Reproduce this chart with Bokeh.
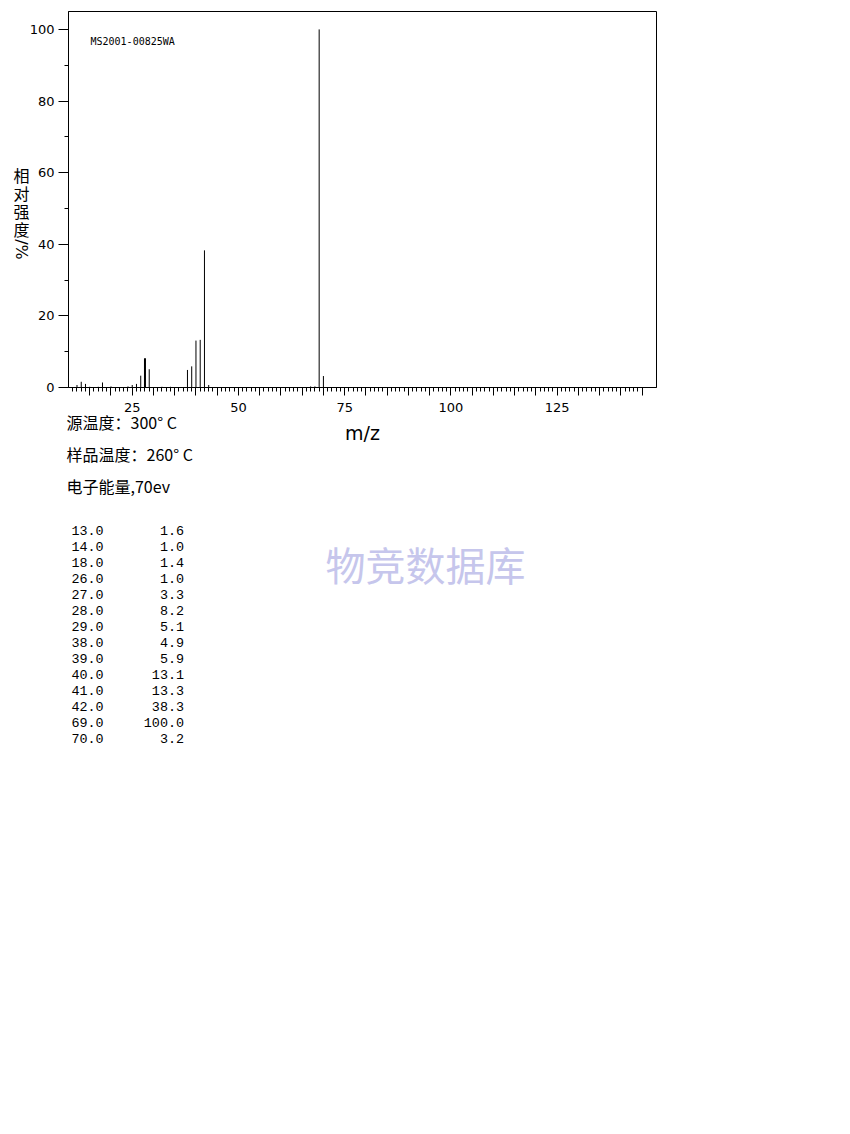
from bokeh.plotting import figure
from bokeh.models import (Label, FixedTicker, CustomJSTickFormatter, Range1d,
                          ColumnDataSource, GridBox)
from bokeh.embed import file_html
from bokeh.resources import INLINE

# ---- data ----
peak_mz = [12, 13, 14, 15, 17, 18, 20, 24, 25, 26, 27, 28, 29, 32, 34,
           38, 39, 40, 41, 42, 43, 67, 68, 69, 70]
peak_int = [0.7, 1.6, 1.0, 0.2, 0.2, 1.4, 0.3, 0.3, 0.7, 1.0, 3.3, 8.2, 5.1, 0.2, 0.2,
            4.9, 5.9, 13.1, 13.3, 38.3, 0.7, 0.3, 0.3, 100.0, 3.2]

table_mz = [13.0, 14.0, 18.0, 26.0, 27.0, 28.0, 29.0, 38.0, 39.0, 40.0, 41.0, 42.0, 69.0, 70.0]
table_int = [1.6, 1.0, 1.4, 1.0, 3.3, 8.2, 5.1, 4.9, 5.9, 13.1, 13.3, 38.3, 100.0, 3.2]

info_lines = ["源温度：300° C", "样品温度：260° C", "电子能量,70ev"]
ylabel_chars = ["相", "对", "强", "度"]
ylabel_tail = "/%"
sample_id = "MS2001-00825WA"
watermark = "物竞数据库"
x_label = "m/z"

x_major = list(range(15, 150, 5))
x_minor = list(range(11, 146))
y_major = [0, 20, 40, 60, 80, 100]
y_minor = [10, 30, 50, 70, 90]

# ---- layout (page pixels) ----
X0, X1 = 10.0, 148.4
Y0, Y1 = 0.0, 105.0
FL, FT, FW, FH = 68, 11, 588, 376  # chart frame on the page
MB_BOTTOM = 60
MAIN_H = FT + FH + MB_BOTTOM
MAIN_W = FL + FW + 10
OV_W = MAIN_W + 20
OV_H = 780

p = figure(width=MAIN_W, height=MAIN_H, x_range=Range1d(X0, X1), y_range=Range1d(Y0, Y1),
           output_backend="svg", toolbar_location=None,
           min_border_left=FL, min_border_top=FT,
           min_border_right=10, min_border_bottom=MB_BOTTOM)
p.background_fill_color = "white"
p.border_fill_color = "white"
p.outline_line_color = "black"
p.outline_line_width = 1
p.xgrid.visible = False
p.ygrid.visible = False

widths = [2 if m == 28 else 1 for m in peak_mz]
src = ColumnDataSource(dict(x=peak_mz, y=peak_int, w=widths))
p.segment(x0="x", y0=0, x1="x", y1="y", source=src, line_color="black", line_width="w")

xa = p.xaxis[0]
xa.ticker = FixedTicker(ticks=x_major, minor_ticks=x_minor)
xa.formatter = CustomJSTickFormatter(code="return (tick % 25 == 0) ? String(tick) : '';")
xa.major_tick_in = 0
xa.major_tick_out = 8
xa.minor_tick_in = 0
xa.minor_tick_out = 4
xa.axis_line_color = "black"
xa.major_tick_line_color = "black"
xa.minor_tick_line_color = "black"
xa.major_label_text_font = "DejaVu Sans"
xa.major_label_text_font_size = "13px"
xa.major_label_text_color = "black"
xa.major_label_standoff = 7
xa.axis_label = x_label
xa.axis_label_text_font = "DejaVu Sans"
xa.axis_label_text_font_style = "normal"
xa.axis_label_text_font_size = "19px"
xa.axis_label_text_color = "black"
xa.axis_label_standoff = 7

ya = p.yaxis[0]
ya.ticker = FixedTicker(ticks=y_major, minor_ticks=y_minor)
ya.major_tick_in = 0
ya.major_tick_out = 10
ya.minor_tick_in = 0
ya.minor_tick_out = 4
ya.axis_line_color = "black"
ya.major_tick_line_color = "black"
ya.minor_tick_line_color = "black"
ya.major_label_text_font = "DejaVu Sans"
ya.major_label_text_font_size = "13px"
ya.major_label_text_color = "black"
ya.major_label_standoff = 4


def dx(px):
    return X0 + (px - FL) * (X1 - X0) / FW


def dy(py):
    return Y1 - (py - FT) * (Y1 - Y0) / FH


def label(fig, text, x, y, size, font, align="left", color="black", angle=0.0):
    fig.add_layout(Label(x=x, y=y, text=text, text_font=font,
                         text_font_size=size, text_align=align, text_baseline="middle",
                         text_color=color, angle=angle))


# sample id inside the chart
label(p, sample_id, dx(90), dy(41), "10px", "DejaVu Sans Mono")

# transparent full-page overlay for the texts around the chart (page pixel coordinates)
ov = figure(width=OV_W, height=OV_H, x_range=Range1d(0, OV_W), y_range=Range1d(OV_H, 0),
            x_axis_type=None, y_axis_type=None, output_backend="svg",
            toolbar_location=None, min_border=0)
ov.outline_line_color = None
ov.xgrid.visible = False
ov.ygrid.visible = False
ov.background_fill_alpha = 0
ov.border_fill_alpha = 0

# vertical y label
for i, ch in enumerate(ylabel_chars):
    label(ov, ch, 21, 174.5 + i * 18, "16px", "Noto Sans CJK SC", align="center")
label(ov, ylabel_tail, 21, 249, "16px", "DejaVu Sans", align="center", angle=-1.5708)

# info lines
for i, t in enumerate(info_lines):
    label(ov, t, 66, 421 + i * 32, "16px", "Noto Sans CJK SC")

# peak table
for i, (m, v) in enumerate(zip(table_mz, table_int)):
    yy = 530 + i * 16
    label(ov, f"{m:.1f}", 71, yy, "13.4px", "Liberation Mono")
    label(ov, f"{v:.1f}", 183.5, yy, "13.4px", "Liberation Mono", align="right")

# watermark
label(ov, watermark, 425, 563, "40px", "Noto Sans CJK SC", align="center", color="#c6c6ec")

# chart sits in the middle cell; the overlay spans all cells so no frame edges are shared
grid = GridBox(children=[(p, 1, 1, 1, 1), (ov, 0, 0, 3, 3)],
               rows=["0px", f"{MAIN_H}px", "auto"],
               cols=["0px", f"{MAIN_W}px", "auto"], spacing=0)
open("out.html", "w").write(file_html(grid, INLINE))
